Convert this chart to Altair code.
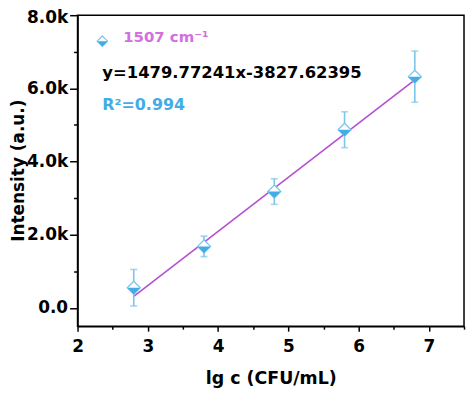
import altair as alt
import pandas as pd

# ---- data ----
lg_c = [2.8, 3.8, 4.8, 5.8, 6.8]
intensity = [550, 1680, 3180, 4870, 6320]
error = [500, 280, 350, 490, 700]

fit_x = [2.8, 6.8]
fit_y = [316, 6235]

x_major = [2, 3, 4, 5, 6, 7]
x_minor = [2.5, 3.5, 4.5, 5.5, 6.5, 7.5]
y_major = [0, 2000, 4000, 6000, 8000]
y_minor = [1000, 3000, 5000, 7000]

legend_label = "1507 cm⁻¹"
equation = "y=1479.77241x-3827.62395"
r2_label = "R²=0.994"

FONT = "DejaVu Sans"
BLUE = "#43ace6"
ERR = "#7cc6ea"
LINE = "#b54fd3"
PINK = "#d36fe0"

df = pd.DataFrame({"x": lg_c, "y": intensity, "e": error})
df["lo"] = df["y"] - df["e"]
df["hi"] = df["y"] + df["e"]
fit = pd.DataFrame({"x": fit_x, "y": fit_y})

xs = alt.Scale(domain=[2, 7.5], nice=False, zero=False)
ys = alt.Scale(domain=[-500, 8000], nice=False, zero=False)

x_axis = alt.Axis(values=x_major, title="lg c (CFU/mL)", labelFont=FONT, labelFontSize=17,
                  labelFontWeight="bold", titleFont=FONT, titleFontSize=17.5, titleFontWeight="bold",
                  tickSize=5, tickWidth=1.5, tickColor="black", domainColor="black", domainWidth=1.5,
                  labelColor="black", titleColor="black", labelPadding=8,
                  titleY=53, titleBaseline="middle",
                  labelFlush=False, labelOverlap=False, grid=False, orient="bottom")
y_axis = alt.Axis(values=y_major, title="Intensity (a.u.)", labelFont=FONT, labelFontSize=17,
                  labelFontWeight="bold", titleFont=FONT, titleFontSize=17, titleFontWeight="bold",
                  tickSize=8, tickWidth=1.5, tickColor="black", domainColor="black", domainWidth=1.5,
                  labelColor="black", titleColor="black", labelPadding=2,
                  labelOffset={"expr": "datum.value == 8000 ? 2.5 : 0"},
                  titleX=-59.5, titleY=156, titleBaseline="middle", titleAlign="center", titleAngle=270,
                  labelExpr="datum.value == 0 ? '0.0' : format(datum.value/1000, '.1f') + 'k'",
                  labelFlush=False, labelOverlap=False, grid=False, orient="left")

x_axis_minor = alt.Axis(values=x_minor, labels=False, title=None, tickSize=3, tickWidth=1.5,
                        tickColor="black", domain=False, grid=False, orient="bottom")
y_axis_minor = alt.Axis(values=y_minor, labels=False, title=None, tickSize=4, tickWidth=1.5,
                        tickColor="black", domain=False, grid=False, orient="left")

base = alt.Chart(df)

# fit line (carries the main axes)
line = alt.Chart(fit).mark_line(color=LINE, strokeWidth=1.6).encode(
    x=alt.X("x:Q", scale=xs, axis=x_axis),
    y=alt.Y("y:Q", scale=ys, axis=y_axis),
)

err_rule = base.mark_rule(color=ERR, strokeWidth=1.6).encode(
    x=alt.X("x:Q", scale=xs, axis=x_axis_minor),
    y=alt.Y("lo:Q", scale=ys, axis=y_axis_minor),
    y2="hi:Q",
)
cap_lo = base.mark_tick(color=ERR, orient="horizontal", size=7, thickness=1.6).encode(
    x=alt.X("x:Q", scale=xs, axis=None), y=alt.Y("lo:Q", scale=ys, axis=None))
cap_hi = base.mark_tick(color=ERR, orient="horizontal", size=7, thickness=1.6).encode(
    x=alt.X("x:Q", scale=xs, axis=None), y=alt.Y("hi:Q", scale=ys, axis=None))

DIAMOND = "M0,-1L1,0L0,1L-1,0Z"
HALF = "M-1,0L1,0L0,1Z"

pt_outline = base.mark_point(shape=DIAMOND, size=170, filled=True, fill="white",
                             stroke=ERR, strokeWidth=1.3, opacity=1).encode(
    x=alt.X("x:Q", scale=xs, axis=None), y=alt.Y("y:Q", scale=ys, axis=None))
pt_fill = base.mark_point(shape=HALF, size=170, filled=True, color=BLUE, opacity=1).encode(
    x=alt.X("x:Q", scale=xs, axis=None), y=alt.Y("y:Q", scale=ys, axis=None))

# legend + annotation
leg = pd.DataFrame({"x": [2.353], "y": [7290]})
leg_outline = alt.Chart(leg).mark_point(shape=DIAMOND, size=110, filled=True, fill="white",
                                        stroke=ERR, strokeWidth=1.2, opacity=1).encode(
    x=alt.X("x:Q", scale=xs, axis=None), y=alt.Y("y:Q", scale=ys, axis=None))
leg_fill = alt.Chart(leg).mark_point(shape=HALF, size=110, filled=True, color=BLUE, opacity=1).encode(
    x=alt.X("x:Q", scale=xs, axis=None), y=alt.Y("y:Q", scale=ys, axis=None))

texts = pd.DataFrame({
    "x": [2.65, 2.353, 2.353],
    "y": [7390, 6420, 5550],
    "t": [legend_label, equation, r2_label],
    "c": [PINK, "black", BLUE],
    "s": [15, 16.5, 16],
})
txt = alt.Chart(texts).mark_text(align="left", baseline="middle", font=FONT, fontWeight="bold").encode(
    x=alt.X("x:Q", scale=xs, axis=None), y=alt.Y("y:Q", scale=ys, axis=None),
    text="t:N", color=alt.Color("c:N", scale=None), size=alt.Size("s:Q", scale=None),
)

chart = alt.layer(line, err_rule, cap_lo, cap_hi, pt_outline, pt_fill, leg_outline, leg_fill, txt).resolve_axis(
    x="independent", y="independent"
).properties(
    width=389, height=313,
    autosize=alt.AutoSizeParams(type="none"),
    padding={"left": 70, "top": 6, "right": 2, "bottom": 62},
).configure_view(stroke="black", strokeWidth=1.5)

chart.save("out.html", embed_options={"renderer": "svg", "actions": False})
